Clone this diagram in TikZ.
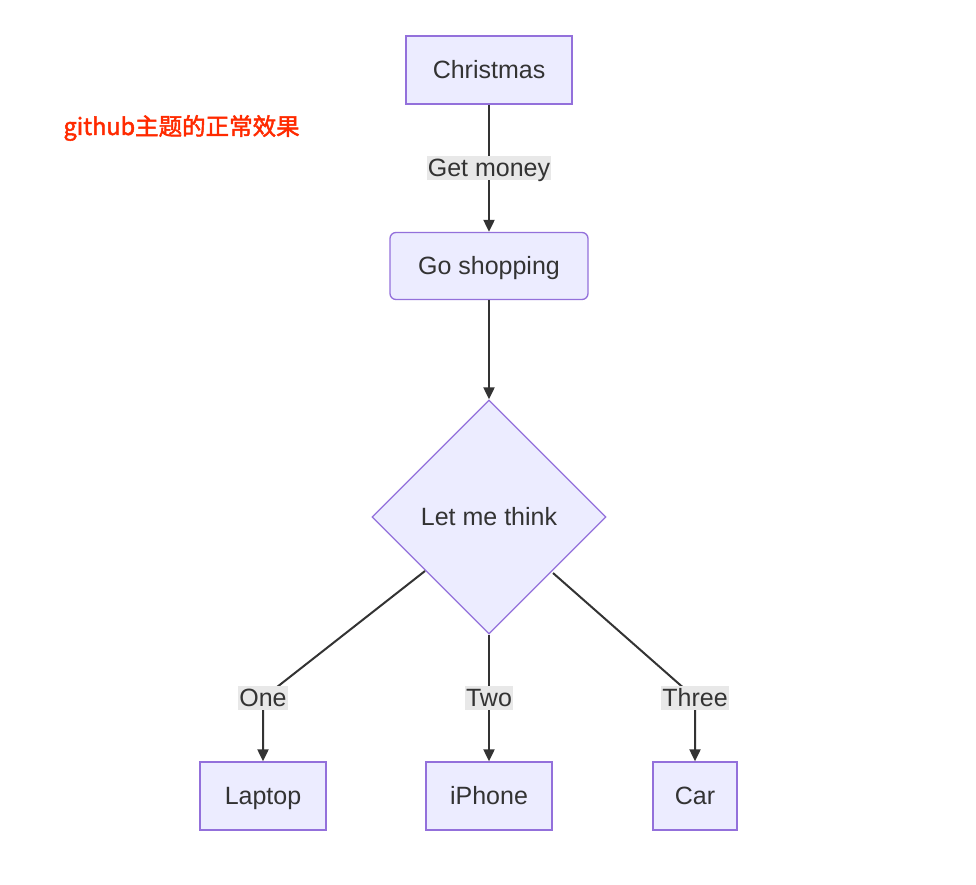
\documentclass[tikz,border=0pt]{standalone}
\usepackage{fontspec}
\setmainfont{Liberation Sans}
\newfontfamily\cjk[FakeBold=2]{Noto Sans CJK SC}
\usetikzlibrary{shapes.geometric,arrows.meta}
\definecolor{nfill}{HTML}{ECECFF}
\definecolor{nline}{HTML}{9370DB}
\definecolor{eline}{HTML}{333333}
\definecolor{lbg}{HTML}{E8E8E8}
\definecolor{redt}{HTML}{FF2A00}
\begin{document}
\begin{tikzpicture}[x=1pt,y=-1pt,
  txt/.style={font=\fontsize{25}{29}\selectfont,text=eline,text height=19pt,text depth=3pt},
  box/.style={txt,draw=nline,fill=nfill,line width=1.3pt,minimum height=68pt,inner sep=0pt},
  dia/.style={txt,diamond,draw=nline,fill=nfill,line width=1.3pt,minimum width=234pt,minimum height=234pt,inner sep=0pt},
  elbl/.style={txt,fill=lbg,inner sep=1pt},
  edge/.style={draw=eline,line width=2pt,-{Triangle[length=12pt,width=11pt]}}]
\useasboundingbox (0,0) rectangle (976,884);
\node[box,minimum width=166pt] (c) at (489,70) {Christmas};
\node[box,minimum width=198pt,minimum height=67pt,rounded corners=6pt] (g) at (489,266) {Go shopping};
\node[dia] (d) at (489,517) {Let me think};
\node[box,minimum width=126pt] (l) at (263,796) {Laptop};
\node[box,minimum width=126pt] (i) at (489,796) {iPhone};
\node[box,minimum width=84pt] (car) at (695,796) {Car};
\node[font=\cjk\fontsize{23.5}{26}\selectfont,text=redt,anchor=west] (t) at (60,128) {github主题的正常效果};
\draw[edge] (c) -- node[elbl] {Get money} (g);
\draw[edge] (g) -- (d.north);
\coordinate (lb) at (263,698);
\coordinate (rb) at (695,698);
\draw[edge] (425,571) -- (lb) node[elbl] {One} -- (l.north);
\draw[edge] (d.south) -- (489,698) node[elbl] {Two} -- (i.north);
\draw[edge] (553,573) -- (rb) node[elbl] {Three} -- (car.north);
\end{tikzpicture}
\end{document}
